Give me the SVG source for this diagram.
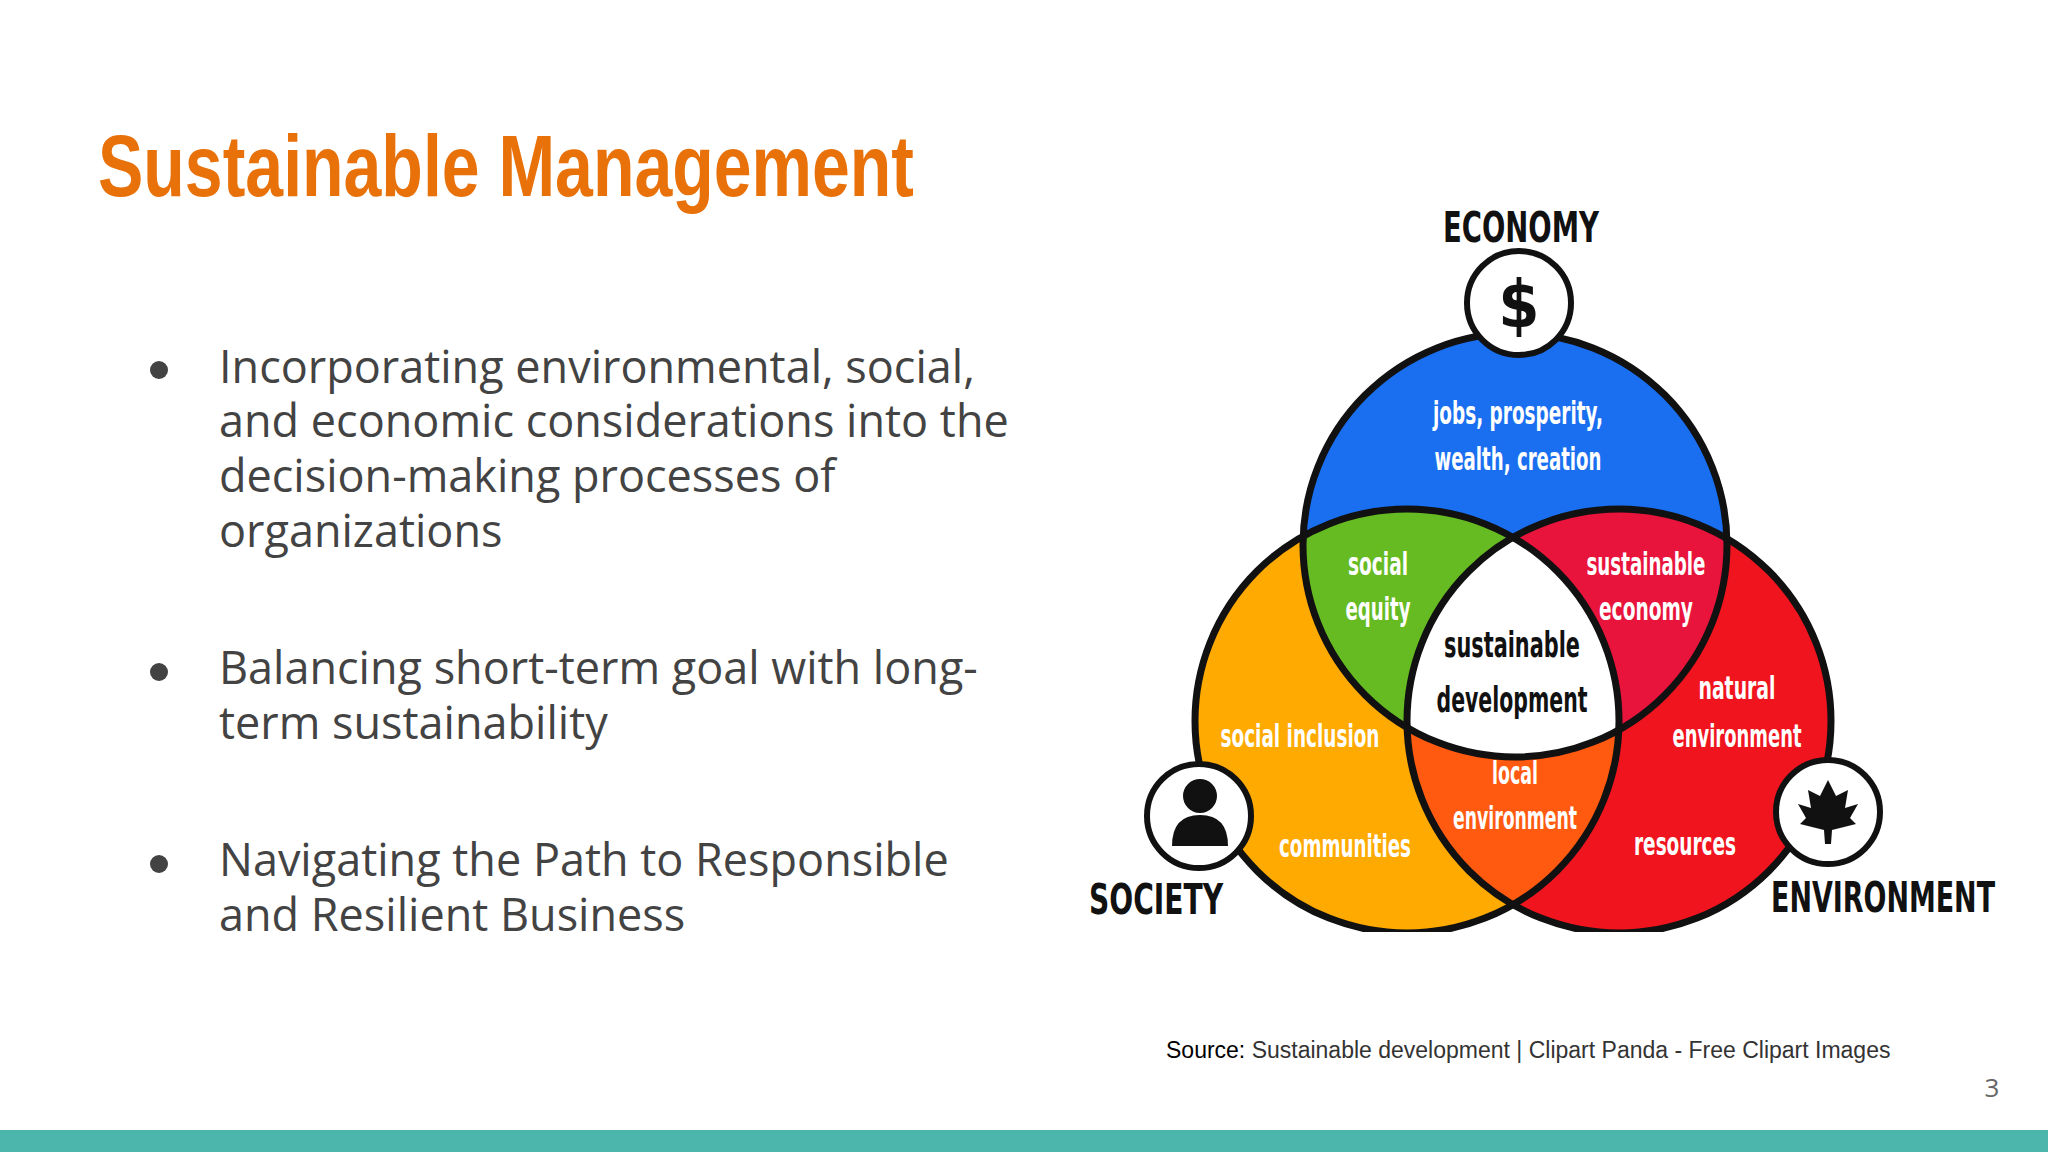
<svg xmlns="http://www.w3.org/2000/svg" width="2048" height="1152" viewBox="0 0 2048 1152">
<style>
.b{font-family:"Open Sans","Liberation Sans",sans-serif;font-size:45px;fill:#434343}
.w{font-family:"DejaVu Sans Condensed","Liberation Sans",sans-serif;font-weight:bold;font-size:32px;fill:#fff;text-anchor:middle}
.k{font-family:"DejaVu Sans Condensed","Liberation Sans",sans-serif;font-weight:bold;fill:#111;text-anchor:middle}
.ic{fill:#fff;stroke:#111;stroke-width:6}
</style>
<defs>
<clipPath id="cb"><circle cx="1515" cy="545" r="212"/></clipPath>
<clipPath id="co"><circle cx="1407" cy="721" r="212"/></clipPath>
<clipPath id="cr"><circle cx="1619" cy="721" r="212"/></clipPath>
<clipPath id="img"><rect x="1080" y="180" width="920" height="752"/></clipPath>
</defs>
<rect width="2048" height="1152" fill="#fff"/>
<text x="98" y="196" font-family="Liberation Sans,sans-serif" font-weight="bold" font-size="88" fill="#e8710a" textLength="816" lengthAdjust="spacingAndGlyphs">Sustainable Management</text>
<g id="bullets">
<circle cx="159" cy="370" r="9" fill="#434343"/>
<circle cx="159" cy="672" r="9" fill="#434343"/>
<circle cx="159" cy="864" r="9" fill="#434343"/>
<text class="b" x="219" y="383">Incorporating environmental, social,</text>
<text class="b" x="219" y="437">and economic considerations into the</text>
<text class="b" x="219" y="492">decision-making processes of</text>
<text class="b" x="219" y="547">organizations</text>
<text class="b" x="219" y="684">Balancing short-term goal with long-</text>
<text class="b" x="219" y="739">term sustainability</text>
<text class="b" x="219" y="876">Navigating the Path to Responsible</text>
<text class="b" x="219" y="931">and Resilient Business</text>
</g>
<g id="venn" clip-path="url(#img)">
<circle cx="1515" cy="545" r="212" fill="#1a6ff0"/>
<circle cx="1407" cy="721" r="212" fill="#ffaa00"/>
<circle cx="1619" cy="721" r="212" fill="#f0141e"/>
<g clip-path="url(#cb)"><circle cx="1407" cy="721" r="212" fill="#66bb22"/><circle cx="1619" cy="721" r="212" fill="#e8143c"/></g>
<g clip-path="url(#co)"><circle cx="1619" cy="721" r="212" fill="#ff5a10"/></g>
<g clip-path="url(#cb)"><g clip-path="url(#co)"><circle cx="1619" cy="721" r="212" fill="#fff"/></g></g>
<g fill="none" stroke="#111" stroke-width="7">
<circle cx="1515" cy="545" r="212"/><circle cx="1407" cy="721" r="212"/><circle cx="1619" cy="721" r="212"/>
</g>
</g>
<g id="economy">
<circle class="ic" cx="1519" cy="303" r="52"/>
<text class="k" x="1519" y="327" font-size="66">$</text>
<text class="k" x="1521" y="242" font-size="42" textLength="156" lengthAdjust="spacingAndGlyphs">ECONOMY</text>
</g>
<g id="society">
<circle class="ic" cx="1199" cy="816" r="52"/>
<circle cx="1200" cy="796" r="17" fill="#111"/>
<path d="M1172 846 Q1172 815 1200 815 Q1228 815 1228 846 Z" fill="#111"/>
<text class="k" x="1156" y="914" font-size="42" textLength="134" lengthAdjust="spacingAndGlyphs">SOCIETY</text>
</g>
<g id="environment">
<circle class="ic" cx="1828" cy="812" r="52"/>
<path d="M1828 780 L1836 796 L1848 790 L1845 808 L1858 804 L1850 818 L1856 824 L1832 830 L1831 844 L1825 844 L1824 830 L1800 824 L1806 818 L1798 804 L1811 808 L1808 790 L1820 796 Z" fill="#111"/>
<text class="k" x="1883" y="912" font-size="42" textLength="224" lengthAdjust="spacingAndGlyphs">ENVIRONMENT</text>
</g>
<g id="labels">
<text class="w" x="1518" y="424" textLength="170" lengthAdjust="spacingAndGlyphs">jobs, prosperity,</text>
<text class="w" x="1518" y="470" textLength="167" lengthAdjust="spacingAndGlyphs">wealth, creation</text>
<text class="w" x="1378" y="575" textLength="60" lengthAdjust="spacingAndGlyphs">social</text>
<text class="w" x="1378" y="620" textLength="65" lengthAdjust="spacingAndGlyphs">equity</text>
<text class="w" x="1646" y="575" textLength="119" lengthAdjust="spacingAndGlyphs">sustainable</text>
<text class="w" x="1646" y="620" textLength="94" lengthAdjust="spacingAndGlyphs">economy</text>
<text class="k" x="1512" y="657" font-size="36" textLength="136" lengthAdjust="spacingAndGlyphs">sustainable</text>
<text class="k" x="1512" y="712" font-size="36" textLength="151" lengthAdjust="spacingAndGlyphs">development</text>
<text class="w" x="1300" y="747" textLength="159" lengthAdjust="spacingAndGlyphs">social inclusion</text>
<text class="w" x="1345" y="857" textLength="132" lengthAdjust="spacingAndGlyphs">communities</text>
<text class="w" x="1515" y="784" textLength="46" lengthAdjust="spacingAndGlyphs">local</text>
<text class="w" x="1515" y="829" textLength="124" lengthAdjust="spacingAndGlyphs">environment</text>
<text class="w" x="1737" y="699" textLength="77" lengthAdjust="spacingAndGlyphs">natural</text>
<text class="w" x="1737" y="747" textLength="129" lengthAdjust="spacingAndGlyphs">environment</text>
<text class="w" x="1685" y="855" textLength="102" lengthAdjust="spacingAndGlyphs">resources</text>
</g>
<text x="1166" y="1058" font-family="Liberation Sans,Arial,sans-serif" font-size="23" fill="#333"><tspan fill="#000">Source:</tspan> Sustainable development | Clipart Panda - Free Clipart Images</text>
<text x="1992" y="1097" font-family="Open Sans,sans-serif" font-size="26" fill="#666" text-anchor="middle">3</text>
<rect x="0" y="1130" width="2048" height="22" fill="#4db6ac"/>
</svg>
